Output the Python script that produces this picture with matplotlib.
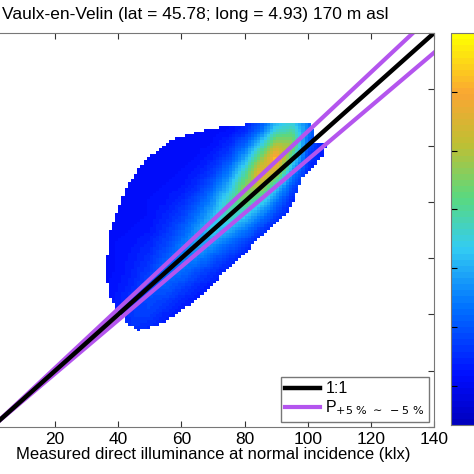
import numpy as np
import matplotlib
matplotlib.use("Agg")
import matplotlib.pyplot as plt
from matplotlib.colors import LinearSegmentedColormap
from matplotlib.path import Path

plt.rcParams['font.family'] = ['Liberation Sans', 'DejaVu Sans']

# coarse density grid, rows y=110..35, cols x=35..105
grid_x = [35, 40, 45, 50, 55, 60, 65, 70, 75, 80, 85, 90, 95, 100, 105]
grid_y = [110, 105, 100, 95, 90, 85, 80, 75, 70, 65, 60, 55, 50, 45, 40, 35]
density = [
    [.12, .12, .12, .12, .12, .12, .12, .12, .12, .14, .20, .33, .38, .28, .13],
    [.12, .12, .12, .12, .12, .12, .12, .12, .13, .17, .28, .45, .50, .30, .14],
    [.12, .12, .12, .12, .12, .12, .12, .13, .17, .26, .42, .64, .60, .24, .15],
    [.12, .12, .12, .12, .12, .12, .13, .16, .22, .36, .58, .82, .46, .19, .14],
    [.12, .12, .12, .12, .12, .13, .15, .20, .30, .48, .74, .62, .31, .16, .13],
    [.12, .12, .12, .12, .13, .14, .18, .26, .38, .58, .62, .40, .22, .14, .12],
    [.12, .12, .12, .13, .14, .17, .23, .32, .47, .55, .43, .28, .16, .12, .12],
    [.12, .12, .12, .13, .16, .20, .28, .38, .48, .40, .30, .20, .13, .12, .12],
    [.12, .12, .13, .14, .18, .24, .33, .42, .36, .29, .20, .13, .12, .12, .12],
    [.12, .13, .14, .16, .21, .28, .36, .33, .26, .20, .14, .12, .12, .12, .12],
    [.12, .13, .15, .18, .24, .31, .30, .24, .19, .14, .12, .12, .12, .12, .12],
    [.12, .13, .16, .20, .27, .27, .22, .18, .14, .12, .12, .12, .12, .12, .12],
    [.12, .14, .17, .23, .25, .21, .17, .14, .12, .12, .12, .12, .12, .12, .12],
    [.12, .15, .19, .22, .20, .16, .14, .12, .12, .12, .12, .12, .12, .12, .12],
    [.13, .15, .20, .20, .16, .14, .12, .12, .12, .12, .12, .12, .12, .12, .12],
    [.14, .15, .18, .16, .14, .12, .12, .12, .12, .12, .12, .12, .12, .12, .12],
]
# outline of the data cloud
outline_x = [83.8, 101.3, 102, 106.3, 104.7, 98.4, 94.3, 78.5, 65.8, 54.1, 46.8, 42.6, 37.3, 35.8, 37.5, 42.0, 48.5, 57.0, 67.9]
outline_y = [108, 108, 101, 101, 96, 88.8, 77, 60.3, 46, 36.8, 34.3, 36.8, 46, 55, 70, 84, 95, 102, 106]

line_x = [0, 140]
ratio_11 = 1.0
ratio_plus = 1.05
ratio_minus = 0.95

# bilinear resampling onto a 1-klx grid
gx = np.array(grid_x, float)
gy = np.array(grid_y, float)[::-1]
D = np.array(density)[::-1]
fx = np.arange(30, 112) + 0.5
fy = np.arange(30, 112) + 0.5
tmp = np.array([np.interp(fx, gx, row) for row in D])
fine = np.array([np.interp(fy, gy, tmp[:, j]) for j in range(len(fx))]).T
XX, YY = np.meshgrid(fx, fy)
poly = Path(np.column_stack([outline_x, outline_y]))
inside = poly.contains_points(np.column_stack([XX.ravel(), YY.ravel()])).reshape(XX.shape)
fine = np.ma.masked_where(~inside, fine)

cmap = LinearSegmentedColormap.from_list('c', [
    (0.0, (0.0, 0.0, 0.75)), (0.12, (0.0, 0.05, 1.0)), (0.3, (0.0, 0.45, 1.0)),
    (0.45, (0.2, 0.8, 0.95)), (0.58, (0.35, 0.85, 0.5)), (0.72, (0.75, 0.75, 0.2)),
    (0.85, (0.98, 0.65, 0.2)), (1.0, (1.0, 1.0, 0.0))], N=64)

fig = plt.figure(figsize=(4.74, 4.74), dpi=100)
W = 474.0
ax = fig.add_axes([-8 / W, (474 - 427) / W, 442 / W, 394 / W])
edges = np.arange(30, 113)
ax.pcolormesh(edges, edges, fine, cmap=cmap, vmin=0.02, vmax=0.88, shading='flat')

purple = '#b455ee'
ax.plot(line_x, [ratio_plus * v for v in line_x], color=purple, lw=3, label=None)
ax.plot(line_x, [ratio_minus * v for v in line_x], color=purple, lw=3,
        label=r'P$_{+5\ \%\ \sim\ -5\ \%}$')
ax.plot(line_x, [ratio_11 * v for v in line_x], color='black', lw=3.2, label='1:1')
h, l = ax.get_legend_handles_labels()
ax.legend(h[::-1], l[::-1], loc='lower right', fontsize=11.5, fancybox=False,
          edgecolor='#555555', borderaxespad=0.3, handlelength=2.2,
          handletextpad=0.3, labelspacing=0.15, borderpad=0.3)

ax.set_xlim(0, 140)
ax.set_ylim(0, 140)
ax.set_xticks([20, 40, 60, 80, 100, 120, 140])
ax.set_yticks(range(0, 141, 20))
ax.set_yticklabels([])
ax.tick_params(direction='in', top=True, right=True, labelsize=12.5, colors='#333333',
               labelcolor='black', length=4)
for s in ax.spines.values():
    s.set_color('#777777')
ax.set_xlabel('Measured direct illuminance at normal incidence (klx)', fontsize=12, labelpad=0)
fig.text(2 / W, 1 - 15 / W, 'Vaulx-en-Velin (lat = 45.78; long = 4.93) 170 m asl',
         fontsize=12.5, va='center', ha='left')

cax = fig.add_axes([451 / W, (474 - 425) / W, 40 / W, 392 / W])
sm = matplotlib.cm.ScalarMappable(cmap=cmap, norm=matplotlib.colors.Normalize(0, 1))
cb = fig.colorbar(sm, cax=cax)
cb.outline.set_edgecolor('#777777')
cax.set_yticks([0.1, 0.25, 0.4, 0.55, 0.7, 0.85])
cax.tick_params(direction='in', left=True, right=False, labelright=False, length=4)

fig.savefig('out.png', dpi=100)
